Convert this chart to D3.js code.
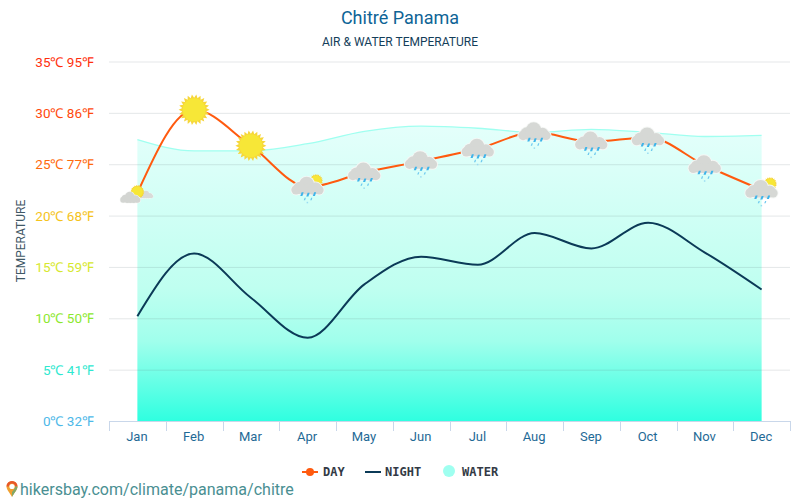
<!DOCTYPE html>
<html><head><meta charset="utf-8">
<script src="https://cdn.jsdelivr.net/npm/d3@7"></script>
<style>html,body{margin:0;padding:0;background:#fff}svg{display:block;font-family:Roboto,sans-serif}</style>
</head><body><svg id="c" width="800" height="500"></svg>
<script>
const months=["Jan","Feb","Mar","Apr","May","Jun","Jul","Aug","Sep","Oct","Nov","Dec"];
const dayTemps=[22.2,30.3,26.8,22.8,24.2,25.3,26.5,28.1,27.2,27.6,24.9,22.5];
const nightTemps=[10.2,16.3,12.0,8.1,13.3,16.0,15.2,18.3,16.8,19.3,16.4,12.8];
const waterTemps=[27.4,26.3,26.3,27.0,28.2,28.7,28.5,28.1,28.4,28.1,27.7,27.8];
const weather=["partly","sun","sun","partlyrain","rain","rain","rain","rain","rain","rain","rain","partlyrain"];
const tickC=[0,5,10,15,20,25,30,35];
const tickF=[32,41,50,59,68,77,86,95];
const tickColors=["#4db8e8","#2ee8cf","#8ce82e","#d6e82e","#f5c31c","#ff6a0d","#ff4a0d","#ff2f0d"];

const svg=d3.select("#c");
const x=d3.scaleBand().domain(months).range([109,790]);
const y=d3.scaleLinear().domain([0,35]).range([421,61.5]);
const cx=m=>x(m)+x.bandwidth()/2;

const grad=svg.append("defs").append("linearGradient").attr("id","wg").attr("x1",0).attr("x2",0).attr("y1",0).attr("y2",1);
[[0,"#e4fffb"],[0.55,"#bffff0"],[0.73,"#a0ffec"],[1,"#2fffe0"]].forEach(s=>grad.append("stop").attr("offset",s[0]).attr("stop-color",s[1]));

// water area (beneath grid)
const area=d3.area().x((d,i)=>cx(months[i])).y0(y(0)).y1(d=>y(d)).curve(d3.curveMonotoneX);
svg.append("path").datum(waterTemps).attr("d",area).attr("fill","url(#wg)");
svg.append("path").datum(waterTemps).attr("d",d3.line().x((d,i)=>cx(months[i])).y(d=>y(d)).curve(d3.curveMonotoneX)).attr("fill","none").attr("stroke","#a0fff0").attr("stroke-width",1.3);

// grid
const yAxis=d3.axisLeft(y).tickValues(tickC.slice(1)).tickSize(-681).tickFormat("");
const gy=svg.append("g").attr("transform","translate(109,0)").call(yAxis);
gy.select(".domain").remove();
gy.selectAll("line").attr("stroke","#5a6a70").attr("stroke-opacity",0.16);

// y labels
svg.append("g").selectAll("text").data(tickC).join("text")
 .attr("x",94).attr("y",d=>y(d)+5).attr("text-anchor","end").attr("font-size",13.5)
 .attr("fill",(d,i)=>tickColors[i]).text((d,i)=>`${d}℃ ${tickF[i]}℉`);

// x axis
const gx=svg.append("g").attr("transform",`translate(-0.5,${y(0)})`)
 .call(d3.axisBottom(x).tickSize(0).tickPadding(11));
gx.select(".domain").attr("stroke","#c9d7ea").attr("d","M110,0.5H791");
gx.selectAll("text").attr("font-size",13).attr("font-family","Roboto,sans-serif").attr("fill","#1f6a96");
svg.append("g").selectAll("line").data(months.map(m=>x(m)).concat([790])).join("line")
 .attr("x1",d=>Math.round(d)+.5).attr("x2",d=>Math.round(d)+.5).attr("y1",y(0)).attr("y2",y(0)+10).attr("stroke","#c9d7ea");

// lines
const ln=d3.line().x((d,i)=>cx(months[i])).y(d=>y(d)).curve(d3.curveMonotoneX);
svg.append("path").datum(nightTemps).attr("d",ln).attr("fill","none").attr("stroke","#0b3a57").attr("stroke-width",2);
svg.append("path").datum(dayTemps).attr("d",ln).attr("fill","none").attr("stroke","#ff5a0f").attr("stroke-width",2);

// icons
function sun(g,r,sp){
  const n=22,pts=[];
  for(let i=0;i<n*2;i++){const a=Math.PI*i/n,R=i%2?r:r+sp;pts.push([R*Math.cos(a),R*Math.sin(a)]);}
  g.append("polygon").attr("points",pts.map(p=>p.join(",")).join(" ")).attr("fill","#f6d63a");
  g.append("circle").attr("r",r-.5).attr("fill","#f7e737");
}
const lobes=[[-1,-2.5,7.5],[-8,1,6],[8,1.5,6],[-11.5,3,4.8],[11.5,3.2,4.5],[0,2.5,5.5],[-5,3,5],[5,3,5]];
function cloud(g,fill){
  g.selectAll(null).data(lobes).join("circle").attr("cx",d=>d[0]).attr("cy",d=>d[1]).attr("r",d=>d[2]+.9).attr("fill","#f5f7f5");
  g.selectAll(null).data(lobes).join("circle").attr("cx",d=>d[0]).attr("cy",d=>d[1]).attr("r",d=>d[2]).attr("fill",fill);
}
function rain(g){
  [[-6,5.5],[0,6],[6.5,5.5]].forEach(d=>g.append("path").attr("d",`M${d[0]},${d[1]} l-1.4,3.6 h2.2 l1.2,-3.6z`).attr("fill","#3cb4ea"));
  [[-3,11],[3.5,11]].forEach(d=>g.append("path").attr("d",`M${d[0]},${d[1]} l-.9,2.4 h1.4 l.7,-2.4z`).attr("fill","#6cc8ee"));
  g.append("rect").attr("x",-1).attr("y",15).attr("width",1.5).attr("height",1.5).attr("fill","#9adcf2");
}
months.forEach((m,i)=>{
  const g=svg.append("g").attr("transform",`translate(${cx(m)},${y(dayTemps[i])})`);
  const t=weather[i];
  if(t==="sun"){sun(g,12,3.5);}
  else if(t==="partly"){
    cloud(g.append("g").attr("transform","translate(0,1) scale(.55)").attr("opacity",.5),"#e2e4e1");
    cloud(g.append("g").attr("transform","translate(9,2) scale(.42)"),"#d9dbd8");
    sun(g.append("g").attr("transform","translate(0,-1)"),6,1);
    cloud(g.append("g").attr("transform","translate(-7,5) scale(.62)"),"#d3d5d2");
  }
  else if(t==="partlyrain"){
    sun(g.append("g").attr("transform","translate(8.5,-6)"),5.5,1.5);
    cloud(g.append("g"),"#d6d8d5");rain(g);
  }
  else{cloud(g.append("g"),"#d6d8d5");rain(g);}
});

// titles
svg.append("text").attr("x",400).attr("y",24).attr("text-anchor","middle").attr("font-size",18).attr("fill","#0e6496").text("Chitré Panama");
svg.append("text").attr("x",400).attr("y",46).attr("text-anchor","middle").attr("font-size",12).attr("fill","#143e5a").text("AIR & WATER TEMPERATURE");
svg.append("text").attr("transform","translate(25,241) rotate(-90)").attr("text-anchor","middle").attr("font-size",12).attr("fill","#3f5866").text("TEMPERATURE");

// legend
const lg=svg.append("g").attr("font-family","'DejaVu Sans Mono',monospace").attr("font-weight","bold").attr("font-size",12).attr("fill","#333a45");
lg.append("line").attr("x1",302).attr("x2",318).attr("y1",472).attr("y2",472).attr("stroke","#ff5a0f").attr("stroke-width",2);
lg.append("circle").attr("cx",310).attr("cy",472).attr("r",4).attr("fill","#ff5a0f");
lg.append("text").attr("x",323).attr("y",476).text("DAY");
lg.append("line").attr("x1",365).attr("x2",381).attr("y1",472).attr("y2",472).attr("stroke","#0b3a57").attr("stroke-width",2);
lg.append("text").attr("x",385).attr("y",476).text("NIGHT");
lg.append("circle").attr("cx",449).attr("cy",471).attr("r",6).attr("fill","#9ffff0");
lg.append("text").attr("x",462).attr("y",476).text("WATER");

// footer
const pin=svg.append("g").attr("transform","translate(12,488)");
pin.append("path").attr("d","M0,9 C-2,5 -5.5,2 -5.5,-1.5 A5.5,5.5 0 0 1 5.5,-1.5 C5.5,2 2,5 0,9 Z").attr("fill","#f0a030");
pin.append("path").attr("d","M-5.5,-1.5 A5.5,5.5 0 0 1 5.5,-1.5 L3,-1.5 A3,3 0 0 0 -3,-1.5 Z").attr("fill","#e8562a");
pin.append("path").attr("d","M0,9 C2,5 5.5,2 5.5,-1.5 L3,-1.5 C3,1 1,3 0,4 Z").attr("fill","#7fa86a");
pin.append("circle").attr("cy",-1.5).attr("r",2.6).attr("fill","#fff");
svg.append("text").attr("x",20).attr("y",495).attr("font-size",16.05).attr("fill","#4a8f92").text("hikersbay.com/climate/panama/chitre");
</script></body></html>
